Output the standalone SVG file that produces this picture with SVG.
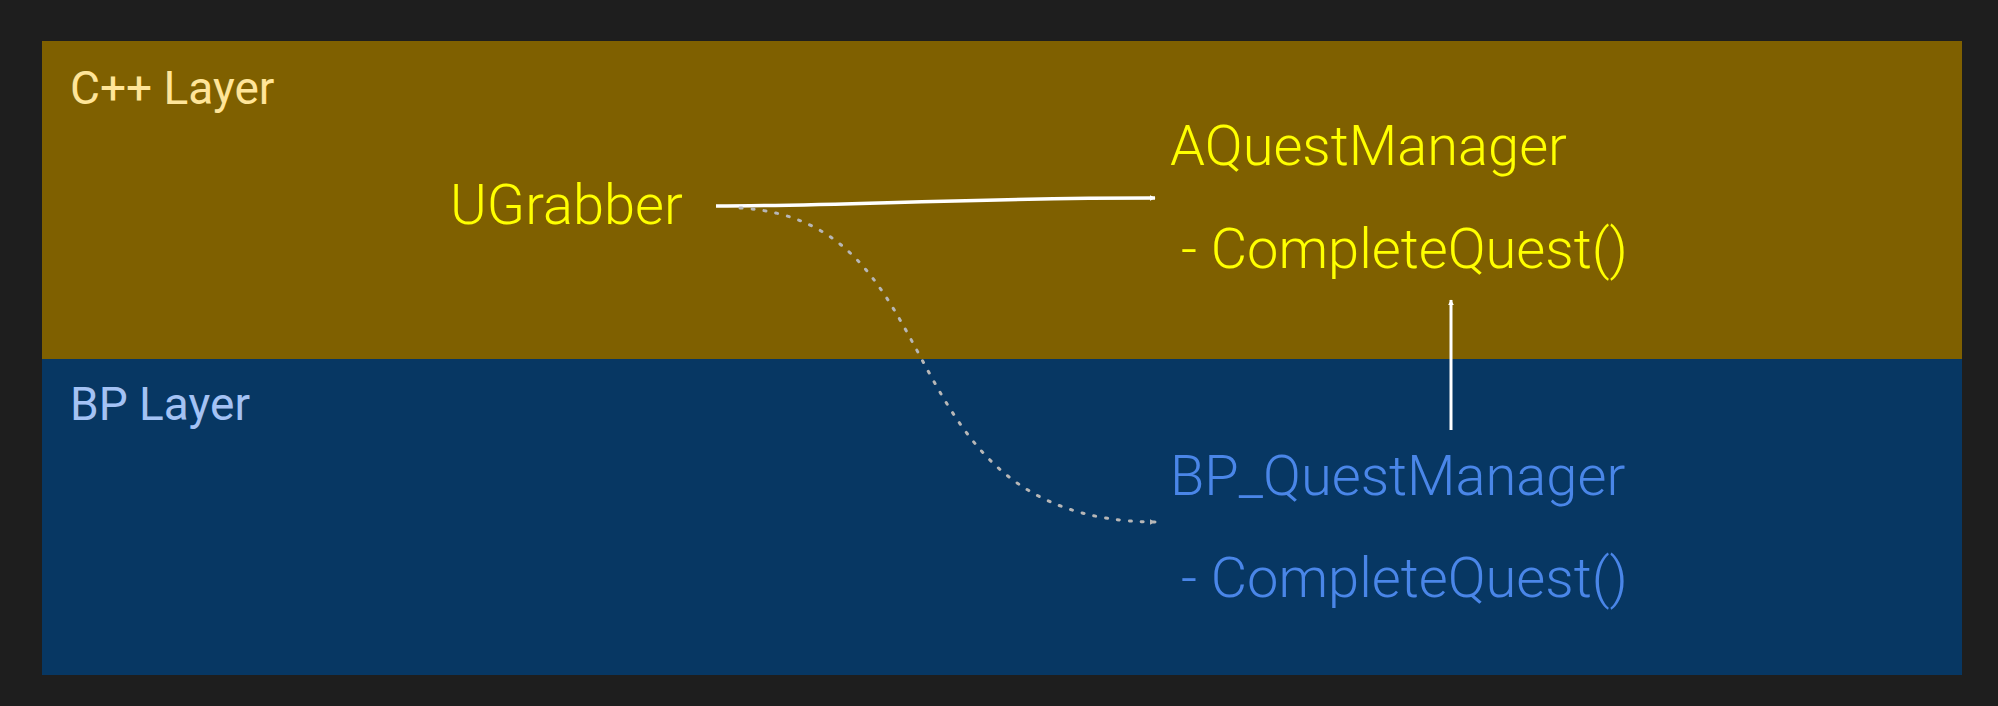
<svg xmlns="http://www.w3.org/2000/svg" width="1998" height="706" viewBox="0 0 1998 706">
<style>
text{font-family:Roboto,"Liberation Sans",sans-serif;font-weight:300}
.y{fill:#ffff00;font-size:56px}
.b{fill:#4a86e8;font-size:56px}
.lab{font-size:46px;font-weight:400}
</style>
<defs>
<marker id="aw" viewBox="0 0 10 10" refX="9" refY="5" markerWidth="6" markerHeight="6" orient="auto" markerUnits="userSpaceOnUse"><path d="M0,0L10,5L0,10z" fill="#ffffff"/></marker>
<marker id="ag" viewBox="0 0 10 10" refX="9" refY="5" markerWidth="6" markerHeight="6" orient="auto" markerUnits="userSpaceOnUse"><path d="M0,0L10,5L0,10z" fill="#b7b7b7"/></marker>
</defs>
<rect width="1998" height="706" fill="#1e1e1e"/>
<g id="cpp-layer"><rect x="42" y="41" width="1920" height="318" fill="#7f6000"/><text class="lab" x="70" y="104" fill="#ffe599">C++ Layer</text></g>
<g id="bp-layer"><rect x="42" y="359" width="1920" height="316" fill="#073763"/><text class="lab" x="70" y="420" fill="#a4c2f4">BP Layer</text></g>
<g id="ugrabber"><text class="y" x="450" y="224">UGrabber</text></g>
<g id="aquestmanager"><text class="y" x="1170" y="165">AQuestManager</text><text class="y" x="1181" y="268">-  CompleteQuest()</text></g>
<g id="bp-questmanager"><text class="b" x="1170" y="495">BP_QuestManager</text><text class="b" x="1181" y="597">-  CompleteQuest()</text></g>
<g id="connectors" fill="none">
<path d="M716,206 C850,206 950,198 1155,198" stroke="#ffffff" stroke-width="3.5" marker-end="url(#aw)"/>
<path d="M740,208 C960,220 880,520 1155,522" stroke="#b7b7b7" stroke-width="3" stroke-dasharray="2 10" stroke-linecap="round" marker-end="url(#ag)"/>
<path d="M1451,430 L1451,300" stroke="#ffffff" stroke-width="3" marker-end="url(#aw)"/>
</g>
</svg>
